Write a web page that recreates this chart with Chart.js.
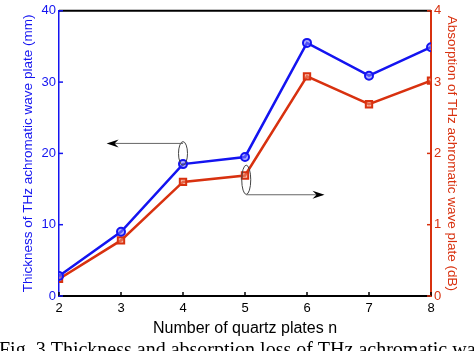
<!DOCTYPE html>
<html>
<head>
<meta charset="utf-8">
<script src="https://cdn.jsdelivr.net/npm/chart.js@4/dist/chart.umd.min.js"></script>
<style>
  html, body { margin: 0; padding: 0; background: #fff; }
  #wrap { width: 474px; height: 351px; overflow: hidden; }
</style>
</head>
<body>
<div id="wrap"><canvas id="chartWavePlate" width="474" height="351"></canvas></div>
<script>
const plates = [2, 3, 4, 5, 6, 7, 8];
const thickness = [2.8, 9.0, 18.5, 19.5, 35.5, 30.9, 34.9];
const absorption = [0.24, 0.78, 1.60, 1.69, 3.08, 2.69, 3.02];
const thicknessTicks = [0, 10, 20, 30, 40];
const absorptionTicks = [0, 1, 2, 3, 4];

const blue = '#1414f0';
const red = '#d8310f';
const caption = 'Fig. 3 Thickness and absorption loss of THz achromatic wave plate';

// inward MATLAB-style ticks, top frame line, callouts and the caption
const matlabFrame = {
  id: 'matlabFrame',
  afterDraw(chart) {
    const { ctx, chartArea: a, scales } = chart;
    const x = scales.x, y = scales.y, y1 = scales.y1;
    ctx.save();

    ctx.strokeStyle = '#000';
    ctx.lineWidth = 2;
    ctx.beginPath();
    ctx.moveTo(a.left, a.top);
    ctx.lineTo(a.right, a.top);
    ctx.stroke();

    ctx.lineWidth = 1.5;
    x.ticks.forEach(t => {
      const px = x.getPixelForValue(t.value);
      ctx.beginPath();
      ctx.moveTo(px, a.bottom);
      ctx.lineTo(px, a.bottom - 4);
      ctx.stroke();
    });
    ctx.strokeStyle = blue;
    y.ticks.forEach(t => {
      const py = y.getPixelForValue(t.value);
      ctx.beginPath();
      ctx.moveTo(a.left, py);
      ctx.lineTo(a.left + 4, py);
      ctx.stroke();
    });
    ctx.strokeStyle = red;
    y1.ticks.forEach(t => {
      const py = y1.getPixelForValue(t.value);
      ctx.beginPath();
      ctx.moveTo(a.right, py);
      ctx.lineTo(a.right - 4, py);
      ctx.stroke();
    });

    // callouts: ellipse around a point, arrow pointing at its axis
    function callout(cx, cy, ry, ax, ay, tx) {
      const ex = x.getPixelForValue(cx), ey = y.getPixelForValue(cy);
      const rpy = Math.abs(y.getPixelForValue(cy + ry) - ey);
      const sx = x.getPixelForValue(ax), sy = y.getPixelForValue(ay);
      const ex2 = x.getPixelForValue(tx);
      ctx.strokeStyle = '#444';
      ctx.lineWidth = 1;
      ctx.beginPath();
      ctx.ellipse(ex, ey, 4.5, rpy, 0, 0, Math.PI * 2);
      ctx.stroke();
      ctx.strokeStyle = '#666';
      ctx.beginPath();
      ctx.moveTo(sx, sy);
      ctx.lineTo(ex2, sy);
      ctx.stroke();
      const dir = ex2 < sx ? -1 : 1;
      ctx.fillStyle = '#000';
      ctx.beginPath();
      ctx.moveTo(ex2 + dir * 2, sy);
      ctx.lineTo(ex2 - dir * 10, sy - 4);
      ctx.lineTo(ex2 - dir * 6, sy);
      ctx.lineTo(ex2 - dir * 10, sy + 4);
      ctx.closePath();
      ctx.fill();
    }
    callout(4, 20.0, 1.65, 4, 21.4, 2.8);
    callout(5.02, 16.3, 2.05, 5.02, 14.2, 6.25);

    ctx.fillStyle = '#000';
    ctx.font = '20px "Liberation Serif", "Times New Roman", serif';
    ctx.textBaseline = 'alphabetic';
    ctx.textAlign = 'left';
    ctx.fillText(caption, -1, 356);
    ctx.restore();
  }
};

new Chart(document.getElementById('chartWavePlate').getContext('2d'), {
  type: 'line',
  data: {
    datasets: [{
      label: 'Thickness',
      data: plates.map((n, i) => ({ x: n, y: thickness[i] })),
      yAxisID: 'y',
      borderColor: blue,
      borderWidth: 2.5,
      pointStyle: 'circle',
      pointRadius: 4,
      pointBorderWidth: 2,
      pointBackgroundColor: 'rgba(120,120,255,0.6)',
      pointBorderColor: blue,
      tension: 0
    }, {
      label: 'Absorption',
      data: plates.map((n, i) => ({ x: n, y: absorption[i] })),
      yAxisID: 'y1',
      borderColor: red,
      borderWidth: 2.5,
      pointStyle: 'rect',
      pointRadius: 4.5,
      pointBorderWidth: 2,
      pointBackgroundColor: 'rgba(240,140,110,0.6)',
      pointBorderColor: red,
      tension: 0
    }]
  },
  options: {
    responsive: false,
    animation: false,
    devicePixelRatio: 1,
    layout: { padding: { top: 6, left: 0, right: 0, bottom: 0 } },
    plugins: { legend: { display: false }, tooltip: { enabled: false } },
    scales: {
      x: {
        type: 'linear',
        min: 2, max: 8,
        afterFit: s => { s.height = 55; },
        afterBuildTicks: s => { s.ticks = plates.map(v => ({ value: v })); },
        ticks: { color: '#000', font: { family: 'Liberation Sans', size: 13 }, padding: 5 },
        grid: { display: false, drawTicks: false },
        border: { display: true, color: '#000', width: 2 },
        title: {
          display: true, text: 'Number of quartz plates n', color: '#000',
          font: { family: 'Liberation Sans', size: 16 }, padding: { top: 0, bottom: 13 }
        }
      },
      y: {
        position: 'left',
        min: 0, max: 40,
        afterFit: s => { s.width = 59; },
        afterBuildTicks: s => { s.ticks = thicknessTicks.map(v => ({ value: v })); },
        ticks: { color: blue, font: { family: 'Liberation Sans', size: 13 }, padding: 3 },
        grid: { display: false, drawTicks: false },
        border: { display: true, color: blue, width: 1.5 },
        title: {
          display: true, text: 'Thickness of THz achromatic wave plate (mm)', color: blue,
          font: { family: 'Liberation Sans', size: 13.5 }, padding: { top: 20, bottom: 0 }
        }
      },
      y1: {
        position: 'right',
        min: 0, max: 4,
        afterFit: s => { s.width = 43; },
        afterBuildTicks: s => { s.ticks = absorptionTicks.map(v => ({ value: v })); },
        ticks: { color: red, font: { family: 'Liberation Sans', size: 13 }, padding: 3 },
        grid: { display: false, drawTicks: false },
        border: { display: true, color: red, width: 2 },
        title: {
          display: true, text: 'Absorption of THz achromatic wave plate (dB)', color: red,
          font: { family: 'Liberation Sans', size: 13.5 }, padding: { top: 14, bottom: 0 }
        }
      }
    }
  },
  plugins: [matlabFrame]
});
</script>
</body>
</html>
